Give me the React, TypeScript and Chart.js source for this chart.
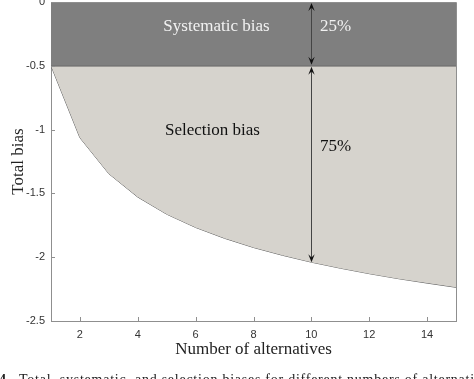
import React, { useEffect, useRef } from "react";
import { Chart, registerables } from "chart.js";

Chart.register(...registerables);

// ---- data ----
const alternatives = [1, 2, 3, 4, 5, 6, 7, 8, 9, 10, 11, 12, 13, 14, 15];
const zeroLevel = [0, 0, 0, 0, 0, 0, 0, 0, 0, 0, 0, 0, 0, 0, 0];
const systematicBias = [-0.5, -0.5, -0.5, -0.5, -0.5, -0.5, -0.5, -0.5, -0.5, -0.5, -0.5, -0.5, -0.5, -0.5, -0.5];
const totalBias = [-0.5, -1.064, -1.346, -1.529, -1.663, -1.767, -1.852, -1.924, -1.985, -2.039, -2.086, -2.129, -2.168, -2.203, -2.236];
const xTicks = [2, 4, 6, 8, 10, 12, 14];
const yTicks = [0, -0.5, -1, -1.5, -2, -2.5];
const arrowAt = 10;
const labels = {
  systematic: "Systematic bias",
  selection: "Selection bias",
  systematicShare: "25%",
  selectionShare: "75%",
  xTitle: "Number of alternatives",
  yTitle: "Total bias",
  caption: "Total, systematic, and selection biases for different numbers of alternatives",
};

const SERIF = "'Liberation Serif', 'DejaVu Serif', serif";
const SANS = "'Liberation Sans', Arial, sans-serif";

function pts(ys: number[]) {
  return alternatives.map((x, i) => ({ x, y: ys[i] }));
}

function arrowHead(ctx: CanvasRenderingContext2D, x: number, tipY: number, dir: number) {
  const len = 8;
  const w = 3.2;
  ctx.beginPath();
  ctx.moveTo(x, tipY);
  ctx.lineTo(x - w, tipY - dir * len);
  ctx.lineTo(x, tipY - dir * len * 0.6);
  ctx.lineTo(x + w, tipY - dir * len);
  ctx.closePath();
  ctx.fill();
}

function doubleArrow(ctx: CanvasRenderingContext2D, x: number, y1: number, y2: number) {
  ctx.beginPath();
  ctx.moveTo(x, y1 + 4);
  ctx.lineTo(x, y2 - 4);
  ctx.stroke();
  arrowHead(ctx, x, y1, -1);
  arrowHead(ctx, x, y2, 1);
}

const overlayPlugin = {
  id: "overlay",
  afterDatasetsDraw(chart: any) {
    const { ctx, chartArea, scales } = chart;
    const xs = scales.x;
    const ys = scales.y;
    ctx.save();
    ctx.strokeStyle = "#8f8f8f";
    ctx.lineWidth = 1;
    ctx.beginPath();
    ctx.moveTo(chartArea.left, Math.round(chartArea.top) + 0.5);
    ctx.lineTo(Math.round(chartArea.right) + 0.5, Math.round(chartArea.top) + 0.5);
    ctx.lineTo(Math.round(chartArea.right) + 0.5, chartArea.bottom);
    ctx.stroke();
    ctx.beginPath();
    xTicks.forEach((v) => {
      const px = Math.round(xs.getPixelForValue(v)) + 0.5;
      ctx.moveTo(px, chartArea.bottom);
      ctx.lineTo(px, chartArea.bottom - 4);
    });
    yTicks.forEach((v) => {
      const py = Math.round(ys.getPixelForValue(v)) + 0.5;
      ctx.moveTo(chartArea.left, py);
      ctx.lineTo(chartArea.left + 4, py);
    });
    ctx.stroke();

    const idx = alternatives.indexOf(arrowAt);
    const ax = Math.round(xs.getPixelForValue(arrowAt)) + 0.5;
    ctx.strokeStyle = "#444";
    ctx.fillStyle = "#111";
    ctx.lineWidth = 1;
    doubleArrow(ctx, ax, ys.getPixelForValue(zeroLevel[idx]) + 1, ys.getPixelForValue(systematicBias[idx]) - 1);
    doubleArrow(ctx, ax, ys.getPixelForValue(systematicBias[idx]) + 1, ys.getPixelForValue(totalBias[idx]));

    ctx.font = `17px ${SERIF}`;
    ctx.textBaseline = "middle";
    ctx.textAlign = "center";
    ctx.fillStyle = "#f2f2f2";
    ctx.fillText(labels.systematic, xs.getPixelForValue(6.72), ys.getPixelForValue(-0.19));
    ctx.textAlign = "left";
    ctx.fillText(labels.systematicShare, xs.getPixelForValue(10.3), ys.getPixelForValue(-0.19));
    ctx.fillStyle = "#111";
    ctx.textAlign = "center";
    ctx.fillText(labels.selection, xs.getPixelForValue(6.58), ys.getPixelForValue(-1.01));
    ctx.textAlign = "left";
    ctx.fillText(labels.selectionShare, xs.getPixelForValue(10.3), ys.getPixelForValue(-1.13));
    ctx.restore();
  },
};

export default function App() {
  const ref = useRef<HTMLCanvasElement>(null);
  useEffect(() => {
    if (!ref.current) return;
    const chart = new Chart(ref.current, {
      type: "line",
      data: {
        datasets: [
          {
            data: pts(zeroLevel),
            borderWidth: 0,
            borderColor: "rgba(0,0,0,0)",
            backgroundColor: "#7f7f7f",
            fill: "+1",
            pointRadius: 0,
          },
          {
            data: pts(systematicBias),
            borderWidth: 1.5,
            borderColor: "#5a5a5a",
            backgroundColor: "#d6d3cd",
            fill: "+1",
            pointRadius: 0,
          },
          {
            data: pts(totalBias),
            borderWidth: 1,
            borderColor: "#5e5e5e",
            fill: false,
            pointRadius: 0,
            tension: 0,
          },
        ],
      },
      options: {
        animation: false,
        responsive: false,
        events: [],
        layout: { padding: { top: 2, right: 18, left: 0, bottom: 0 } },
        plugins: { legend: { display: false }, tooltip: { enabled: false } },
        scales: {
          x: {
            type: "linear",
            min: 1,
            max: 15,
            afterBuildTicks: (s: any) => {
              s.ticks = xTicks.map((v) => ({ value: v }));
            },
            afterFit: (s: any) => {
              s.height = 58;
            },
            grid: { display: false, drawTicks: false },
            border: { display: true, color: "#8f8f8f", width: 1 },
            ticks: {
              padding: 7,
              color: "#333",
              font: { family: SANS, size: 11 },
              maxRotation: 0,
              callback: (v: any) => String(v),
            },
            title: {
              display: true,
              text: labels.xTitle,
              color: "#222",
              font: { family: SERIF, size: 17 },
              padding: { top: 0, bottom: 19 },
            },
          },
          y: {
            type: "linear",
            min: -2.5,
            max: 0,
            afterBuildTicks: (s: any) => {
              s.ticks = yTicks.map((v) => ({ value: v }));
            },
            afterFit: (s: any) => {
              s.width = 51;
              s.paddingTop = 0;
              s.paddingBottom = 0;
            },
            grid: { display: false, drawTicks: false },
            border: { display: true, color: "#8f8f8f", width: 1 },
            ticks: {
              padding: 6,
              color: "#333",
              font: { family: SANS, size: 11 },
              callback: (v: any) => String(v),
            },
            title: {
              display: true,
              text: labels.yTitle,
              color: "#222",
              font: { family: SERIF, size: 17 },
              padding: { top: 8, bottom: 0 },
            },
          },
        },
      },
      plugins: [overlayPlugin],
    });
    return () => chart.destroy();
  }, []);

  return (
    <div style={{ position: "fixed", left: 0, top: 0, width: 474, height: 379, overflow: "hidden", background: "#fff" }}>
      <canvas ref={ref} width={474} height={379} style={{ display: "block" }} />
      <div
        style={{
          position: "absolute",
          left: -1,
          top: 372,
          whiteSpace: "nowrap",
          fontFamily: SERIF,
          fontSize: 14,
          color: "#222",
          letterSpacing: 0.75,
        }}
      >
        <b style={{ marginRight: 8 }}>4.</b>{labels.caption}
      </div>
    </div>
  );
}
